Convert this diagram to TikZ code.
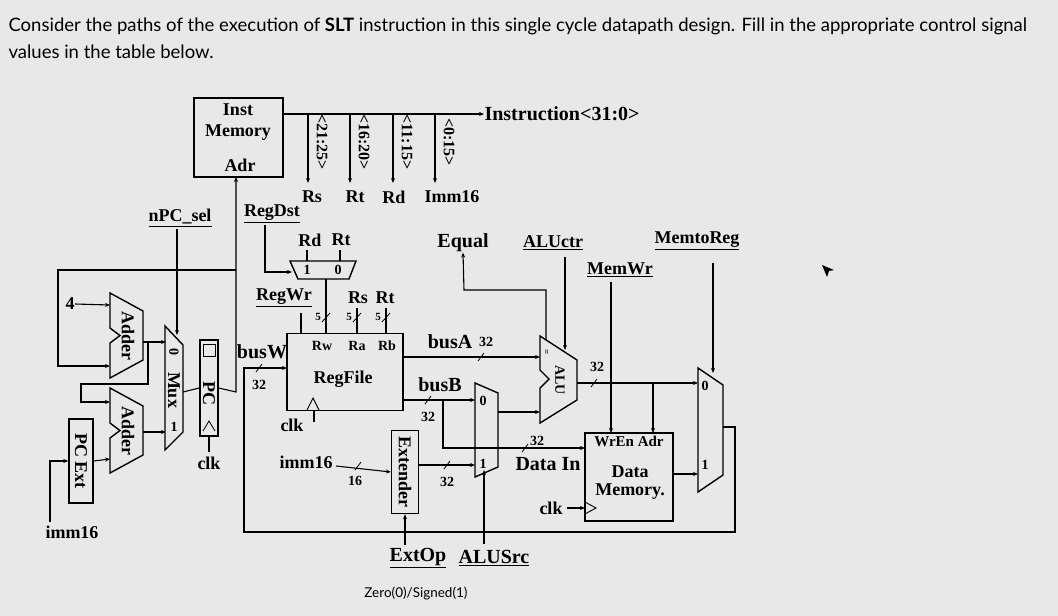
\documentclass[tikz,border=0pt]{standalone}
\usepackage{fontspec}
\setmainfont{Liberation Serif}
\newfontfamily\ttl{Lato}
\usetikzlibrary{arrows.meta}
\newcommand\myul[1]{\underline{#1}}
\begin{document}
\begin{tikzpicture}[x=1pt,y=-1pt,line width=1.1pt,>={Stealth[length=5pt,width=4pt]},
  lb/.style={font=\bfseries\fontsize{18}{19}\selectfont,inner sep=0pt},
  big/.style={font=\bfseries\fontsize{20}{21}\selectfont,inner sep=0pt},
  tap/.style={font=\bfseries\fontsize{16}{17}\selectfont,inner sep=0pt},
  sm/.style={font=\bfseries\fontsize{14}{15}\selectfont,inner sep=0pt},
  ul/.style={lb},
  box/.style={draw,line width=1.4pt,inner sep=0pt}]
\fill[black!9] (0,0) rectangle (1058,616);
\useasboundingbox (0,0) rectangle (1058,616);
% title
\node[anchor=west,font=\ttl\fontsize{18.5}{19}\selectfont,inner sep=0pt] (t1) at (8,26) {Consider the paths of the execution of \textbf{SLT} instruction in this single cycle datapath design. Fill in the appropriate control signal};
\node[anchor=west,font=\ttl\fontsize{18.5}{19}\selectfont,inner sep=0pt] (t2) at (8,52) {values in the table below.};
% Inst memory
\node[box,minimum width=89pt,minimum height=79pt] (im) at (238.5,137.5) {};
\node[lb] (imA) at (238,110) {Inst};
\node[lb] (imB) at (238,133) {Memory};
\node[lb] (imC) at (240,165) {Adr};
\coordinate (ib0) at (283,114);
\node[big,anchor=west] (instr) at (484,114) {Instruction<31:0>};
\draw[->] (ib0) -- (instr.west);
\foreach \x/\t/\l/\n in {308/{<21:25>}/Rs/a,350/{<16:20>}/Rt/b,393/{<11:15>}/Rd/c,435/{<0:15>}/Imm16/d}{
  \coordinate (tp\n) at (\x,114);
  \coordinate (te\n) at (\x,183);
  \draw[->] (tp\n) -- (te\n);
  \node[tap,rotate=-90] (tl\n) at (\x+14,142) {\t};
}
\node[lb] (rsL) at (312,197) {Rs};
\node[lb] (rtL) at (355,197) {Rt};
\node[lb] (rdL) at (394,197) {Rd};
\node[lb] (imL) at (452,197) {Imm16};
% labels
\node[ul] (npcs) at (180,218) {\myul{nPC\_sel}};
\node[ul] (rdst) at (272,214) {\myul{RegDst}};
% adders
\foreach \n/\y in {ad1/293,ad2/388}{
  \draw[line width=1.4pt] (110,\y) -- (143,\y+18) -- (143,\y+67) -- (110,\y+85) -- (110,\y+50) -- (120,\y+42.5) -- (110,\y+35) -- cycle;
  \node[lb,rotate=-90] (\n) at (128,\y+42.5) {Adder};
}
\node[lb] (four) at (70,304) {4};
\draw[->] (four.east) -- (110,305);
\coordinate (loopA) at (236,270);
\draw[->] (loopA) -- (58,270) -- (58,366) -- (110,366);
% PC ext
\node[box,minimum width=24pt,minimum height=84pt] (pcext) at (81,461) {};
\node[lb,rotate=-90] (pcextL) at (81,461) {PC Ext};
\node[lb] (imm16a) at (72,532) {imm16};
\draw[->] (50,522) -- (50,461) -- (pcext.west);
\draw[->] (pcext.east) -- (110,459);
% nPC mux
\draw[line width=1.4pt] (165,326) -- (183,345) -- (183,432) -- (165,450) -- cycle;
\node[lb,rotate=-90] (muxL) at (174,390) {Mux};
\node[sm,rotate=-90] (m0) at (174,352) {0};
\node[sm] (m1) at (174,427) {1};
\draw[->] (177,229) -- (177,335);
\draw[->] (143,342) -- (166,342);
\draw[->] (143,432) -- (166,432);
\draw[->] (148,342) -- (148,384) -- (81,384) -- (81,402) -- (110,402);
% PC
\node[box,minimum width=18pt,minimum height=96pt] (pc) at (209,388) {};
\node[lb,rotate=-90] (pcL) at (209,393) {PC};
\draw[line width=0.8pt] (203,344) rectangle (215,356);
\draw[line width=0.8pt] (203,431) -- (209,421) -- (215,431);
\node[lb] (clk1) at (209,463) {clk};
\draw (209,436) -- (209,452);
\draw (183,392) -- (pc.west);
\draw[->] (pc.east) -- (236,392) -- (236,177);
% RegDst mux
\draw[line width=1.4pt] (290,261) -- (356,261) -- (349,279) -- (298,279) -- cycle;
\node[sm] (rm1) at (307,270) {1};
\node[sm] (rm0) at (338,270) {0};
\node[lb] (rdL2) at (310,240) {Rd};
\node[lb] (rtL2) at (341,240) {Rt};
\draw (307,250) -- (307,261);
\draw (340,250) -- (340,261);
\draw[->] (265,225) -- (265,272) -- (292,272);
% RegFile
\node[box,minimum width=116pt,minimum height=77pt] (rf) at (345,372) {};
\node[sm] (rw) at (322,346) {Rw};
\node[sm] (ra) at (357,346) {Ra};
\node[sm] (rb) at (387,346) {Rb};
\node[lb] (rfL) at (343,379) {RegFile};
\node[ul] (regwr) at (284,298) {\myul{RegWr}};
\node[lb] (rsL2) at (358,298) {Rs};
\node[lb] (rtL3) at (385,298) {Rt};
\draw (301,313) -- (301,333);
\draw (326,279) -- (326,333);
\draw (357,308) -- (357,333);
\draw (386,308) -- (386,333);
\foreach \x in {326,357,386}{\draw[line width=0.8pt] (\x-4,322) -- (\x+4,313);
  \node[sm,font=\bfseries\fontsize{11}{11}\selectfont] at (\x-8,317) {5};}
\draw[line width=0.9pt] (307,410) -- (313,398) -- (319,410);
\node[lb] (clk2) at (292,425) {clk};
\draw (314,410) -- (314,422);
\node[big] (busW) at (262,352) {busW};
\node[sm] (b32) at (259,385) {32};
\draw[line width=0.8pt] (256,372) -- (262,364);
% ALUSrc mux
\draw[line width=1.4pt] (475,383) -- (498,393) -- (498,467) -- (475,477) -- cycle;
\node[sm] (s0) at (483,401) {0};
\node[sm] (s1) at (483,464) {1};
% Extender
\node[box,minimum width=27pt,minimum height=83pt] (ext) at (405,472) {};
\node[lb,rotate=-90] (extL) at (405,472) {Extender};
\node[lb] (imm16b) at (306,462) {imm16};
\draw[->] (336,466) -- (ext.west);
\draw[line width=0.8pt] (355,470) -- (361,462);
\node[sm] (n16) at (355,481) {16};
\draw[->] (418.5,465) -- (475,465);
\draw[line width=0.8pt] (444,469) -- (450,461);
\node[sm] (n32c) at (447,482) {32};
% ALU
\draw[line width=1.4pt] (540,336) -- (577,360) -- (577,400) -- (540,423) -- (540,388) -- (549,379) -- (540,370) -- cycle;
\node[sm,rotate=-90] (aluL) at (560,380) {ALU};
\node[sm,font=\bfseries\fontsize{9}{9}\selectfont,rotate=-90] (eq) at (546,352) {=};
% buses
\draw[->] (403,357) -- (540,357);
\node[big] (busA) at (450,342) {busA};
\node[sm] (n32a) at (486,342) {32};
\draw[line width=0.8pt] (478,361) -- (484,353);
\draw[->] (403,400) -- (475,400);
\node[big] (busB) at (440,385) {busB};
\draw[line width=0.8pt] (425,404) -- (431,396);
\node[sm] (n32b) at (428,417) {32};
\draw[->] (443,400) -- (443,448) -- (585,448);
\draw[line width=0.8pt] (522,452) -- (528,444);
\node[sm] (n32d) at (537,441) {32};
\node[big] (datain) at (548,464) {Data In};
\draw[->] (498,412) -- (540,412);
\draw[->] (484,544) -- (484,470);
\draw[->] (405,545) -- (ext.south);
% Equal / ALUctr
\node[big] (equal) at (463,243) {Equal};
\draw[->] (546,340) -- (546,290) -- (464,290) -- (equal.south);
\node[ul] (aluctr) at (553,243) {\myul{ALUctr}};
\draw[->] (565,257) -- (565,350);
\node[ul] (memwr) at (620,270) {\myul{MemWr}};
\node[ul] (m2r) at (697,241) {\myul{MemtoReg}};
% Data memory
\node[box,minimum width=88pt,minimum height=88pt] (dm) at (629,477) {};
\node[sm,font=\bfseries\fontsize{15}{15}\selectfont] (wren) at (629,441) {WrEn Adr};
\node[lb] (dmA) at (630,472) {Data};
\node[lb] (dmB) at (630,492) {Memory.};
\node[lb] (clk3) at (551,508) {clk};
\draw[->] (567,508) -- (585,508);
\draw[line width=0.9pt] (585,502) -- (596,508) -- (585,514);
\draw[->] (611,282) -- (611,433);
% MemtoReg mux
\draw[line width=1.4pt] (698,368) -- (723,385) -- (723,475) -- (698,492) -- cycle;
\node[sm] (q0) at (705,386) {0};
\node[sm] (q1) at (705,465) {1};
\draw[->] (577,383) -- (698,383);
\draw[line width=0.8pt] (591,387) -- (597,379);
\node[sm] (n32e) at (597,367) {32};
\draw[->] (653,383) -- (653,433);
\draw[->] (673,474) -- (698,474);
\draw[->] (713,263) -- (713,373);
\draw[->] (723,427) -- (735,427) -- (735,532) -- (244,532) -- (244,368) -- (287,368);
% bottom labels
\node[big] (extop) at (418,558) {\myul{ExtOp}};
\node[big] (alusrc) at (494,558) {\myul{ALUSrc}};
\node[font=\ttl\fontsize{13.5}{14}\selectfont,inner sep=0pt] (zs) at (416,593) {Zero(0)/Signed(1)};
% cursor
\fill (822,265) -- (834,270) -- (829,271) -- (827,277) -- cycle;
\end{tikzpicture}
\end{document}
